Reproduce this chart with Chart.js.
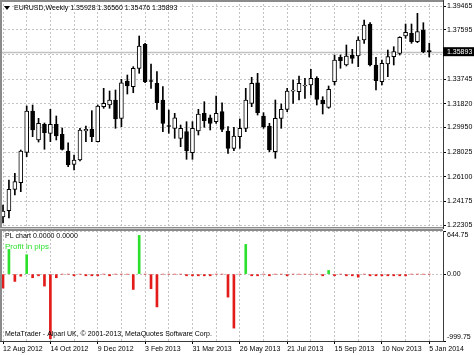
<!DOCTYPE html>
<html>
<head>
<meta charset="utf-8">
<script src="https://cdn.jsdelivr.net/npm/chart.js@4.4.0/dist/chart.umd.min.js"></script>
<style>
  body { margin: 0; background: #fff; }
  #wrap { position: relative; width: 474px; height: 355px; }
  #priceChart { position: absolute; left: 0; top: 0; }
  #plChart { position: absolute; left: 0; top: 230px; }
</style>
</head>
<body>
<div id="wrap">
  <canvas id="priceChart" width="474" height="230"></canvas>
  <canvas id="plChart" width="474" height="125"></canvas>
</div>
<script>
// EURUSD weekly bars, index 0 = week of 12 Aug 2012
var opens = [
  1.22932, 1.23426, 1.25104, 1.25621, 1.28005, 1.31243, 1.28969, 1.30200, 1.29494, 1.30200,
  1.29416, 1.28107, 1.27064, 1.27401, 1.29675, 1.29831, 1.28836, 1.31580, 1.31713, 1.32105,
  1.30670, 1.33595, 1.33148, 1.34590, 1.36472, 1.33634, 1.33414, 1.32105, 1.30106, 1.29886,
  1.29102, 1.29620, 1.27973, 1.29675, 1.31062, 1.30717, 1.30404, 1.31188, 1.29675, 1.28318,
  1.29228, 1.29886, 1.31846, 1.33461, 1.30851, 1.30067, 1.28052, 1.30670, 1.31376, 1.32795,
  1.32756, 1.33203, 1.33281, 1.33806, 1.32105, 1.31533, 1.33540, 1.35453, 1.34849, 1.35633,
  1.35555, 1.36809, 1.38063, 1.34849, 1.33540, 1.34927, 1.35500, 1.35766, 1.37123, 1.37334,
  1.36676, 1.37593, 1.35928
];
var highs = [
  1.23873, 1.25833, 1.26358, 1.28185, 1.31635, 1.31713, 1.30670, 1.30302, 1.31376, 1.30851,
  1.29910, 1.28757, 1.27793, 1.29886, 1.30067, 1.31266, 1.31713, 1.33022, 1.32811, 1.32889,
  1.33728, 1.34065, 1.34716, 1.37123, 1.36550, 1.34927, 1.34324, 1.33148, 1.31321, 1.31062,
  1.30145, 1.30404, 1.30404, 1.31376, 1.31972, 1.30929, 1.32419, 1.31893, 1.30012, 1.29965,
  1.30615, 1.33022, 1.33885, 1.34198, 1.31109, 1.30278, 1.32105, 1.31791, 1.33022, 1.33673,
  1.33987, 1.33806, 1.34512, 1.33932, 1.32364, 1.33203, 1.35633, 1.35633, 1.36417, 1.36080,
  1.37068, 1.38377, 1.38165, 1.35453, 1.35241, 1.36025, 1.36284, 1.37068, 1.38063, 1.38063,
  1.38902, 1.38165, 1.36560
];
var lows = [
  1.22462, 1.22854, 1.24657, 1.24916, 1.27660, 1.29228, 1.28812, 1.28240, 1.28836, 1.28969,
  1.28185, 1.26876, 1.26617, 1.27323, 1.28836, 1.28836, 1.28812, 1.31454, 1.31454, 1.29886,
  1.30012, 1.32575, 1.32677, 1.34198, 1.33461, 1.33022, 1.31376, 1.29620, 1.29494, 1.29102,
  1.28444, 1.27456, 1.27456, 1.29361, 1.29965, 1.29753, 1.30278, 1.29620, 1.27926, 1.28130,
  1.28318, 1.29620, 1.31580, 1.30929, 1.29886, 1.28052, 1.27534, 1.29886, 1.31188, 1.31846,
  1.32105, 1.32238, 1.32497, 1.31713, 1.31007, 1.31454, 1.33281, 1.34590, 1.34771, 1.34982,
  1.34716, 1.36550, 1.34771, 1.32889, 1.33281, 1.33932, 1.34849, 1.35633, 1.36942, 1.36550,
  1.36597, 1.35813, 1.35476
];
var closes = [
  1.23403, 1.25104, 1.25700, 1.28107, 1.31243, 1.29753, 1.30278, 1.29541, 1.30200, 1.29283,
  1.28240, 1.27009, 1.27401, 1.29753, 1.29808, 1.29228, 1.31635, 1.31846, 1.32105, 1.30615,
  1.33461, 1.33203, 1.34590, 1.36339, 1.33540, 1.33555, 1.31893, 1.30278, 1.30027, 1.30717,
  1.29886, 1.28130, 1.29886, 1.31007, 1.30482, 1.30278, 1.31062, 1.29808, 1.28318, 1.29283,
  1.29886, 1.32105, 1.33414, 1.31109, 1.30012, 1.28185, 1.30670, 1.31376, 1.32811, 1.32850,
  1.33414, 1.33281, 1.33806, 1.32160, 1.31791, 1.32944, 1.35241, 1.35186, 1.35555, 1.35374,
  1.36809, 1.37985, 1.34849, 1.33618, 1.34982, 1.35500, 1.35892, 1.37021, 1.37413, 1.36676,
  1.37460, 1.35892, 1.35893
];
// profit/loss per bar, pips
var plPips = [
  -209, 369, -109, -30, 290, -54, -25, -179, -966, -54,
  0, 0, -25, 0, -25, -25, -25, 0, -25, 0,
  0, 0, -229, 579, 0, -218, -490, 0, 0, 0,
  0, -25, -25, -25, -25, -25, 0, 0, -344, -807,
  0, 444, -25, -25, 0, -25, 0, 0, -25, 0,
  0, 0, 0, 0, -25, 55, -25, 0, -25, -25,
  -45, 0, -25, -25, -25, -25, -25, -25, -25, 0,
  0, 0, 0
];
var priceTicks = [1.22305, 1.24175, 1.26100, 1.28025, 1.29950, 1.31820, 1.33745, 1.35670, 1.37595, 1.39465];
var plTicks = [-999.75, 0, 644.75];
// one date label every 8 bars
var dateLabels = ['12 Aug 2012', '14 Oct 2012', '9 Dec 2012', '3 Feb 2013', '31 Mar 2013',
  '26 May 2013', '21 Jul 2013', '15 Sep 2013', '10 Nov 2013', '5 Jan 2014'];
var headerText = 'EURUSD,Weekly 1.35928 1.36560 1.35476 1.35893';
var plHeader = 'PL chart 0.0000 0.0000';
var plLegend = 'Profit in pips';
var copyright = 'MetaTrader - Alpari UK, \u00a9 2001-2013, MetaQuotes Software Corp.';

Chart.defaults.font.family = 'Liberation Sans, Arial, sans-serif';
Chart.defaults.font.size = 7;
Chart.defaults.color = '#000';

var barIdx = opens.map(function (o, i) { return i; });
var gridIdx = barIdx.filter(function (i) { return i % 4 === 0; });
var lastClose = closes[closes.length - 1];
var dotted = '#c4c4c4';
var frameGray = '#8a8a8a';
var green = '#2ee02e';
var red = '#e31b1b';

function timeAxis(withLabels) {
  return {
    type: 'linear',
    min: -0.51,
    max: 74.32,
    offset: false,
    afterBuildTicks: function (scale) {
      scale.ticks = gridIdx.map(function (v) { return { value: v }; });
    },
    afterFit: function (scale) {
      scale.height = withLabels ? 14 : 0;
      scale.paddingLeft = 0;
      scale.paddingRight = 0;
    },
    grid: {
      offset: false,
      color: dotted,
      drawTicks: withLabels,
      tickLength: 3,
      tickColor: function (c) { return c.tick && c.tick.value % 8 === 0 ? '#000' : 'rgba(0,0,0,0)'; }
    },
    border: { display: withLabels, color: '#3a3a3a', dash: [2, 2] },
    ticks: {
      display: withLabels,
      align: 'start',
      padding: 1,
      autoSkip: false,
      maxRotation: 0,
      callback: function (v) { return v % 8 === 0 ? dateLabels[v / 8] : ''; }
    }
  };
}

function valueAxis(min, max, ticks, fmt) {
  return {
    position: 'right',
    min: min,
    max: max,
    afterBuildTicks: function (scale) {
      scale.ticks = ticks.map(function (v) { return { value: v }; });
    },
    afterFit: function (scale) {
      scale.width = 31;
      scale.paddingTop = 0;
      scale.paddingBottom = 0;
    },
    grid: { color: dotted, tickColor: '#000', tickLength: 3 },
    border: { color: '#3a3a3a', dash: [2, 2] },
    ticks: { padding: 1, callback: fmt }
  };
}

var priceOverlay = {
  id: 'priceOverlay',
  beforeDatasetsDraw: function (chart) {
    var a = chart.chartArea, ctx = chart.ctx;
    var y = Math.round(chart.scales.y.getPixelForValue(lastClose)) + 0.5;
    ctx.save();
    ctx.strokeStyle = '#c2c2c2';
    ctx.lineWidth = 1.5;
    ctx.beginPath();
    ctx.moveTo(a.left, y);
    ctx.lineTo(a.right, y);
    ctx.stroke();
    ctx.restore();
  },
  afterDraw: function (chart) {
    var a = chart.chartArea, ctx = chart.ctx;
    ctx.save();
    // pane frame
    ctx.fillStyle = frameGray;
    ctx.fillRect(0, 0, a.right, 2);
    ctx.fillRect(0, 0, 2, a.bottom);
    ctx.fillRect(0, 227, a.right, 1);
    ctx.fillStyle = '#d2d2d2';
    ctx.fillRect(0, 228, a.right, 1);
    ctx.fillStyle = frameGray;
    ctx.fillRect(0, 229, a.right, 1);
    // symbol header
    ctx.fillStyle = '#000';
    ctx.beginPath();
    ctx.moveTo(4, 6);
    ctx.lineTo(10, 6);
    ctx.lineTo(7, 10);
    ctx.closePath();
    ctx.fill();
    ctx.font = '7px Liberation Sans, Arial, sans-serif';
    ctx.textBaseline = 'middle';
    ctx.fillText(headerText, 14, 8.5);
    // current price tag
    var y = chart.scales.y.getPixelForValue(lastClose);
    ctx.fillRect(a.right, y - 4.5, 31, 9);
    ctx.fillStyle = '#fff';
    ctx.fillText(lastClose.toFixed(5), a.right + 4, y + 0.5);
    ctx.restore();
  }
};

var plOverlay = {
  id: 'plOverlay',
  afterDraw: function (chart) {
    var a = chart.chartArea, ctx = chart.ctx;
    ctx.save();
    ctx.fillStyle = frameGray;
    ctx.fillRect(0, 0, a.right, 1);
    ctx.fillRect(0, 0, 2, a.bottom);
    ctx.textBaseline = 'middle';
    ctx.fillStyle = '#000';
    ctx.font = '7px Liberation Sans, Arial, sans-serif';
    ctx.fillText(plHeader, 5, 6.5);
    ctx.fillText(copyright, 5, 104);
    ctx.fillStyle = green;
    ctx.font = '8px Liberation Sans, Arial, sans-serif';
    ctx.fillText(plLegend, 5, 16.5);
    ctx.restore();
  }
};

new Chart(document.getElementById('priceChart'), {
  type: 'bar',
  data: {
    datasets: [{
      label: 'wicks',
      data: barIdx.map(function (i) { return { x: i, y: [lows[i], highs[i]] }; }),
      backgroundColor: '#000',
      barThickness: 1,
      grouped: false,
      order: 2
    }, {
      label: 'bodies',
      data: barIdx.map(function (i) { return { x: i, y: [opens[i], closes[i]] }; }),
      backgroundColor: barIdx.map(function (i) { return closes[i] > opens[i] ? '#fff' : '#000'; }),
      borderColor: '#000',
      borderWidth: 1,
      borderSkipped: false,
      barThickness: 4,
      minBarLength: 1,
      grouped: false,
      order: 1
    }]
  },
  options: {
    responsive: false,
    animation: false,
    events: [],
    layout: { padding: { bottom: 2 } },
    plugins: { legend: { display: false }, tooltip: { enabled: false } },
    scales: {
      x: timeAxis(false),
      y: valueAxis(1.2207, 1.39945, priceTicks, function (v) { return v.toFixed(5); })
    }
  },
  plugins: [priceOverlay]
});

new Chart(document.getElementById('plChart'), {
  type: 'bar',
  data: {
    datasets: [{
      label: plLegend,
      data: barIdx.map(function (i) { return { x: i, y: plPips[i] }; }),
      backgroundColor: plPips.map(function (v) { return v > 0 ? green : red; }),
      barThickness: 2
    }]
  },
  options: {
    responsive: false,
    animation: false,
    events: [],
    layout: { padding: { top: 1 } },
    plugins: { legend: { display: false }, tooltip: { enabled: false } },
    scales: {
      x: timeAxis(true),
      y: valueAxis(-999.75, 644.75, plTicks, function (v) {
        if (v === plTicks[2]) return ['', v.toFixed(2)];
        if (v === plTicks[0]) return [v.toFixed(2), ''];
        return v.toFixed(2);
      })
    }
  },
  plugins: [plOverlay]
});
</script>
</body>
</html>
